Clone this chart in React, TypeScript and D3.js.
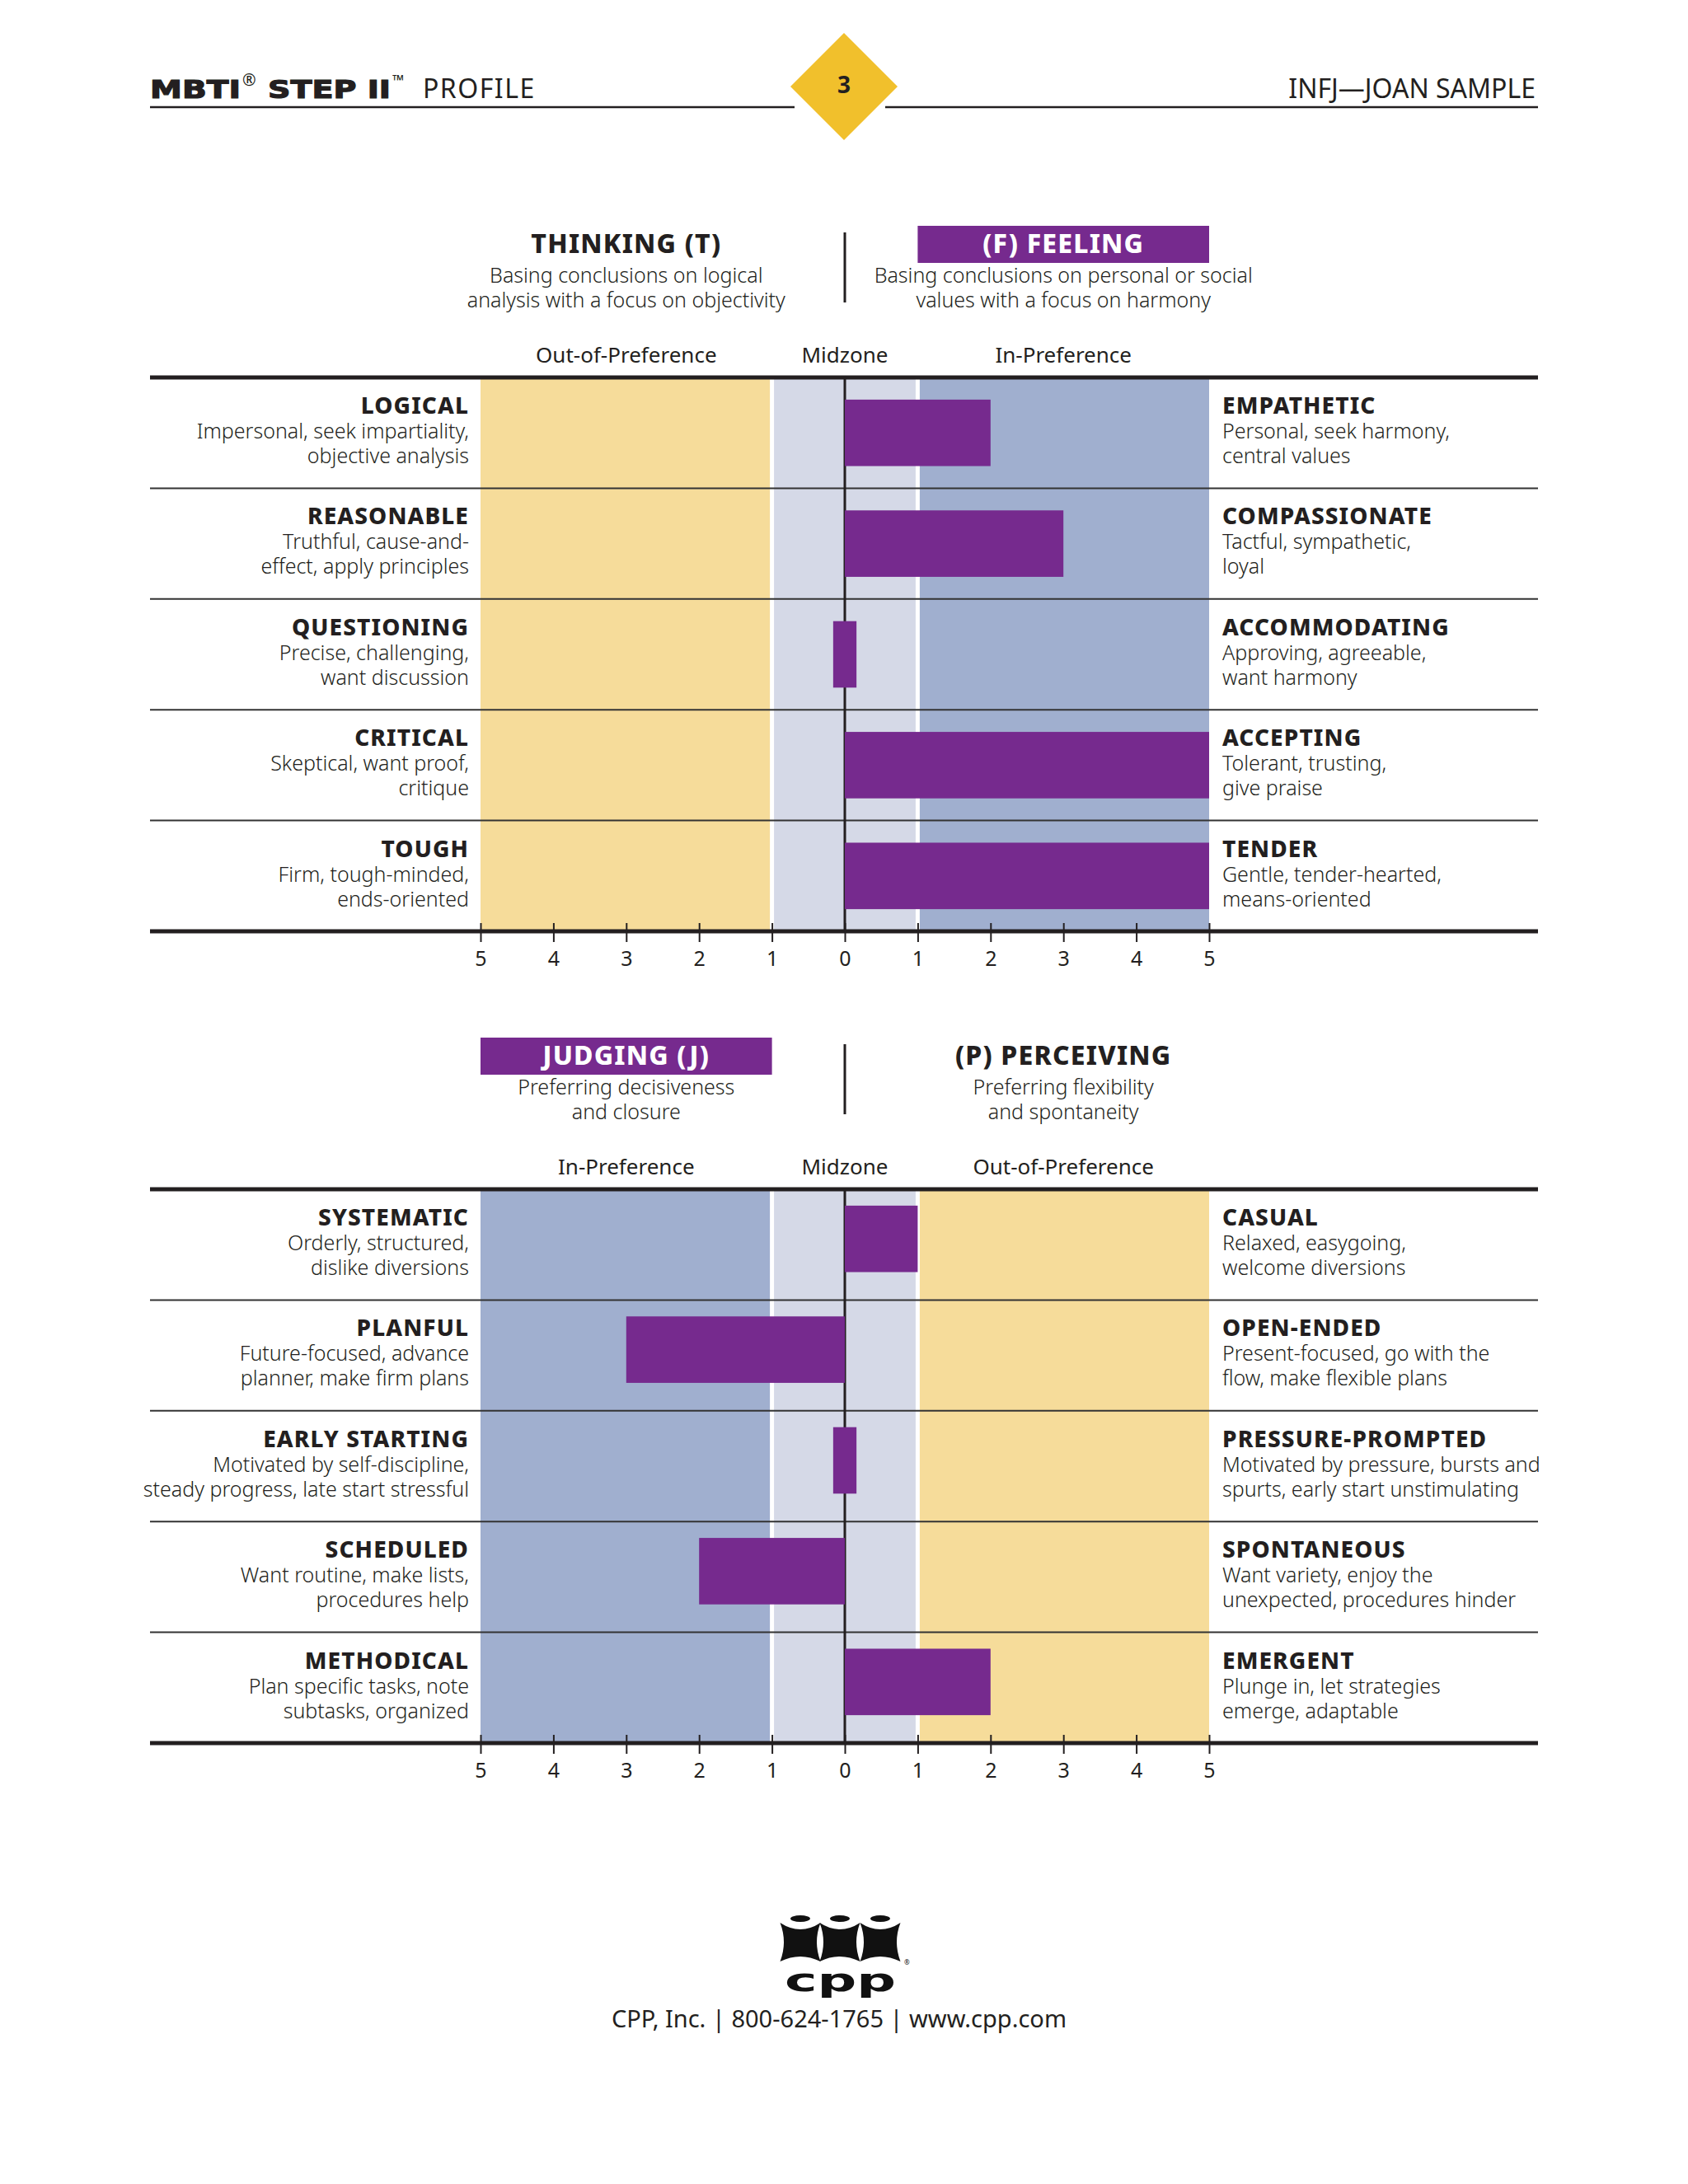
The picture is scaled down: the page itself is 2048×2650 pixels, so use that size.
import { useEffect, useRef } from "react";
import * as d3 from "d3";

// ---- data ----
const scoreTicks = [-5, -4, -3, -2, -1, 0, 1, 2, 3, 4, 5];
const zoneBounds = [
  [-5, -1],
  [-1, 1],
  [1, 5],
];

const tfLeftTitles = ["LOGICAL", "REASONABLE", "QUESTIONING", "CRITICAL", "TOUGH"];
const tfLeftDescs = [
  ["Impersonal, seek impartiality,", "objective analysis"],
  ["Truthful, cause-and-", "effect, apply principles"],
  ["Precise, challenging,", "want discussion"],
  ["Skeptical, want proof,", "critique"],
  ["Firm, tough-minded,", "ends-oriented"],
];
const tfRightTitles = ["EMPATHETIC", "COMPASSIONATE", "ACCOMMODATING", "ACCEPTING", "TENDER"];
const tfRightDescs = [
  ["Personal, seek harmony,", "central values"],
  ["Tactful, sympathetic,", "loyal"],
  ["Approving, agreeable,", "want harmony"],
  ["Tolerant, trusting,", "give praise"],
  ["Gentle, tender-hearted,", "means-oriented"],
];
const tfScores = [2, 3, 0, 5, 5];
const tfZoneLabels = ["Out-of-Preference", "Midzone", "In-Preference"];

const jpLeftTitles = ["SYSTEMATIC", "PLANFUL", "EARLY STARTING", "SCHEDULED", "METHODICAL"];
const jpLeftDescs = [
  ["Orderly, structured,", "dislike diversions"],
  ["Future-focused, advance", "planner, make firm plans"],
  ["Motivated by self-discipline,", "steady progress, late start stressful"],
  ["Want routine, make lists,", "procedures help"],
  ["Plan specific tasks, note", "subtasks, organized"],
];
const jpRightTitles = ["CASUAL", "OPEN-ENDED", "PRESSURE-PROMPTED", "SPONTANEOUS", "EMERGENT"];
const jpRightDescs = [
  ["Relaxed, easygoing,", "welcome diversions"],
  ["Present-focused, go with the", "flow, make flexible plans"],
  ["Motivated by pressure, bursts and", "spurts, early start unstimulating"],
  ["Want variety, enjoy the", "unexpected, procedures hinder"],
  ["Plunge in, let strategies", "emerge, adaptable"],
];
const jpScores = [1, -3, 0, -2, 2];
const jpZoneLabels = ["In-Preference", "Midzone", "Out-of-Preference"];

const FONT = "'Noto Sans', 'Open Sans', sans-serif";
const INK = "#231f20";
const PURPLE = "#762a8e";
const YELLOW = "#f6dc9a";
const MID = "#d5d9e7";
const BLUE = "#a0afcf";

interface Head {
  title: string;
  lines: string[];
  boxed: boolean;
}

interface ChartProps {
  top: number;
  barShift: number;
  leftTitles: string[];
  leftDescs: string[][];
  rightTitles: string[];
  rightDescs: string[][];
  scores: number[];
  zoneLabels: string[];
  zoneColors: string[];
  leftHead: Head;
  rightHead: Head;
}

function Chart({
  top,
  barShift,
  leftTitles,
  leftDescs,
  rightTitles,
  rightDescs,
  scores,
  zoneLabels,
  zoneColors,
  leftHead,
  rightHead,
}: ChartProps) {
  const axisRef = useRef<SVGGElement>(null);
  const bottom = top + 672;
  const x = d3.scaleLinear().domain([-5, 5]).range([583, 1467]);
  const rows = d3
    .scaleBand<number>()
    .domain(d3.range(scores.length))
    .range([top, bottom]);
  const rh = rows.bandwidth();

  useEffect(() => {
    if (!axisRef.current) return;
    const g = d3.select(axisRef.current);
    g.selectAll("*").remove();
    g.call(
      d3
        .axisBottom(x)
        .tickValues(scoreTicks)
        .tickSize(23)
        .tickPadding(11)
        .tickFormat((d) => String(Math.abs(+d))),
    );
    g.select(".domain").remove();
    g.selectAll(".tick line").attr("stroke", INK).attr("stroke-width", 2);
    g.selectAll(".tick text")
      .attr("fill", INK)
      .style("font-size", "25px")
      .style("font-family", FONT);
  }, [top]);

  const heads = [
    { h: leftHead, cx: x(-3), x0: x(-5), x1: x(-1) },
    { h: rightHead, cx: x(3), x0: x(1), x1: x(5) },
  ];

  return (
    <g>
      {/* headers */}
      {heads.map(({ h, cx, x0, x1 }, i) => (
        <g key={i}>
          {h.boxed && (
            <rect x={x0} y={top - 184} width={x1 - x0} height={45} fill={PURPLE} />
          )}
          <text
            x={cx}
            y={top - 151}
            textAnchor="middle"
            fontFamily={FONT}
            fontWeight={800}
            fontSize={32}
            letterSpacing={1.2}
            fill={h.boxed ? "#fff" : INK}
          >
            {h.title}
          </text>
          {h.lines.map((l, j) => (
            <text
              key={j}
              x={cx}
              y={top - 115 + j * 30}
              textAnchor="middle"
              fontFamily={FONT}
              fontWeight={300}
              fontSize={25}
              fill={INK}
            >
              {l}
            </text>
          ))}
        </g>
      ))}
      <line x1={x(0)} x2={x(0)} y1={top - 176} y2={top - 91} stroke={INK} strokeWidth={3} />

      {/* zone labels */}
      {zoneBounds.map((b, i) => (
        <text
          key={i}
          x={x((b[0] + b[1]) / 2)}
          y={top - 18}
          textAnchor="middle"
          fontFamily={FONT}
          fontSize={26}
          fill={INK}
        >
          {zoneLabels[i]}
        </text>
      ))}

      {/* zone bands */}
      {zoneBounds.map((b, i) => (
        <rect
          key={i}
          x={x(b[0])}
          y={top}
          width={x(b[1]) - x(b[0])}
          height={bottom - top}
          fill={zoneColors[i]}
        />
      ))}
      {[-1, 1].map((v) => (
        <line key={v} x1={x(v)} x2={x(v)} y1={top} y2={bottom} stroke="#fff" strokeWidth={5} />
      ))}

      {/* row separators */}
      {d3.range(1, scores.length).map((i) => (
        <line
          key={i}
          x1={182}
          x2={1866}
          y1={rows(i)!}
          y2={rows(i)!}
          stroke="#333"
          strokeWidth={2}
        />
      ))}

      <line x1={x(0)} x2={x(0)} y1={top} y2={bottom} stroke={INK} strokeWidth={3} />

      {/* bars */}
      {scores.map((s, i) => {
        const a = s === 0 ? x(-0.16) : x(Math.min(0, s));
        const b = s === 0 ? x(0.16) : x(Math.max(0, s));
        return (
          <rect
            key={i}
            x={a}
            y={rows(i)! + rh * 0.2 + barShift}
            width={b - a}
            height={rh * 0.6}
            fill={PURPLE}
          />
        );
      })}

      {/* row labels */}
      {scores.map((_, i) => {
        const ry = rows(i)!;
        return (
          <g key={i} fontFamily={FONT} fill={INK}>
            <text x={569} y={ry + 44} textAnchor="end" fontWeight={800} fontSize={28} letterSpacing={1.1}>
              {leftTitles[i]}
            </text>
            {leftDescs[i].map((l, j) => (
              <text key={j} x={569} y={ry + 74 + j * 30} textAnchor="end" fontWeight={300} fontSize={25}>
                {l}
              </text>
            ))}
            <text x={1483} y={ry + 44} fontWeight={800} fontSize={28} letterSpacing={1.1}>
              {rightTitles[i]}
            </text>
            {rightDescs[i].map((l, j) => (
              <text key={j} x={1483} y={ry + 74 + j * 30} fontWeight={300} fontSize={25}>
                {l}
              </text>
            ))}
          </g>
        );
      })}

      {/* frame lines */}
      <line x1={182} x2={1866} y1={top} y2={top} stroke={INK} strokeWidth={5} />
      <line x1={182} x2={1866} y1={bottom} y2={bottom} stroke={INK} strokeWidth={5} />

      <g ref={axisRef} transform={`translate(0,${bottom - 10})`} />
    </g>
  );
}

function Logo() {
  const centers = [971, 1019, 1068];
  const hw = 24.5;
  const yt = 2333;
  const yb = 2380;
  const ym = (yt + yb) / 2;
  return (
    <g fill="#111">
      {centers.map((cx) => (
        <g key={cx}>
          <ellipse cx={cx} cy={2328} rx={12} ry={4} />
          <path
            d={`M${cx - hw},${yt} Q${cx},${yt + 16} ${cx + hw},${yt} Q${cx + hw - 9},${ym} ${cx + hw},${yb} Q${cx},${yb - 12} ${cx - hw},${yb} Q${cx - hw + 9},${ym} ${cx - hw},${yt} Z`}
          />
        </g>
      ))}
      <text x={1097} y={2384} fontSize={8} fontFamily={FONT}>
        ®
      </text>
      <text
        x={952}
        y={2416}
        fontFamily="'DejaVu Sans', sans-serif"
        fontWeight={700}
        fontSize={38}
        textLength={135}
        lengthAdjust="spacingAndGlyphs"
      >
        cpp
      </text>
    </g>
  );
}

export default function App() {
  return (
    <svg
      width={2048}
      height={2650}
      viewBox="0 0 2048 2650"
      style={{ position: "absolute", left: 0, top: 0, display: "block", background: "#fff" }}
    >
      <rect width={2048} height={2650} fill="#fff" />

      {/* page header */}
      <g fill={INK}>
        <text
          x={182}
          y={119}
          fontFamily="'DejaVu Sans', sans-serif"
          fontWeight={900}
          fontSize={31}
          stroke={INK}
          strokeWidth={1.2}
          textLength={110}
          lengthAdjust="spacingAndGlyphs"
        >
          MBTI
        </text>
        <text x={294} y={104} fontFamily={FONT} fontSize={20}>
          ®
        </text>
        <text
          x={325}
          y={119}
          fontFamily="'DejaVu Sans', sans-serif"
          fontWeight={900}
          fontSize={31}
          stroke={INK}
          strokeWidth={1.2}
          textLength={149}
          lengthAdjust="spacingAndGlyphs"
        >
          STEP II
        </text>
        <text x={476} y={104} fontFamily={FONT} fontSize={18} fontWeight={700}>
          ™
        </text>
        <text x={513} y={119} fontFamily={FONT} fontSize={32} letterSpacing={1.5}>
          PROFILE
        </text>
        <text x={1863} y={119} textAnchor="end" fontFamily={FONT} fontSize={32}>
          INFJ—JOAN SAMPLE
        </text>
      </g>
      <line x1={182} x2={964} y1={130} y2={130} stroke={INK} strokeWidth={2.5} />
      <line x1={1074} x2={1866} y1={130} y2={130} stroke={INK} strokeWidth={2.5} />
      <path d="M1024,40 L1089,105 L1024,170 L959,105 Z" fill="#f1c02c" />
      <text x={1024} y={113} textAnchor="middle" fontFamily={FONT} fontWeight={700} fontSize={28} fill={INK}>
        3
      </text>

      <Chart
        top={458}
        barShift={0}
        leftTitles={tfLeftTitles}
        leftDescs={tfLeftDescs}
        rightTitles={tfRightTitles}
        rightDescs={tfRightDescs}
        scores={tfScores}
        zoneLabels={tfZoneLabels}
        zoneColors={[YELLOW, MID, BLUE]}
        leftHead={{
          title: "THINKING (T)",
          lines: ["Basing conclusions on logical", "analysis with a focus on objectivity"],
          boxed: false,
        }}
        rightHead={{
          title: "(F) FEELING",
          lines: ["Basing conclusions on personal or social", "values with a focus on harmony"],
          boxed: true,
        }}
      />

      <Chart
        top={1443}
        barShift={-7}
        leftTitles={jpLeftTitles}
        leftDescs={jpLeftDescs}
        rightTitles={jpRightTitles}
        rightDescs={jpRightDescs}
        scores={jpScores}
        zoneLabels={jpZoneLabels}
        zoneColors={[BLUE, MID, YELLOW]}
        leftHead={{
          title: "JUDGING (J)",
          lines: ["Preferring decisiveness", "and closure"],
          boxed: true,
        }}
        rightHead={{
          title: "(P) PERCEIVING",
          lines: ["Preferring flexibility", "and spontaneity"],
          boxed: false,
        }}
      />

      <Logo />
      <text x={1018} y={2460} textAnchor="middle" fontFamily={FONT} fontSize={29} fill={INK}>
        CPP, Inc. | 800-624-1765 | www.cpp.com
      </text>
    </svg>
  );
}
